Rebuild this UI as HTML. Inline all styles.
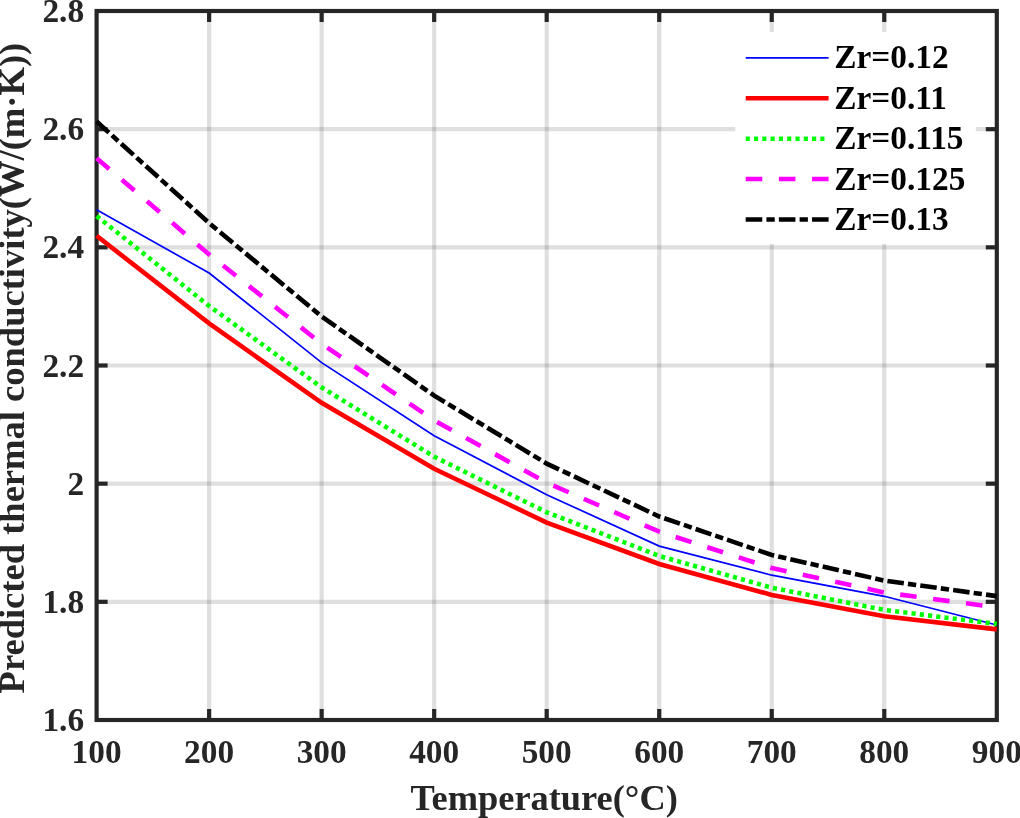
<!DOCTYPE html>
<html lang="en"><head><meta charset="utf-8"><title>Predicted thermal conductivity</title>
<style>html,body{margin:0;padding:0;background:#fff;}body{width:1020px;height:818px;overflow:hidden;}svg{display:block;}text{font-family:"Liberation Serif","Times New Roman",serif;font-weight:bold;}</style></head><body>
<svg width="1020" height="818" viewBox="0 0 1020 818">
<rect x="0" y="0" width="1020" height="818" fill="#ffffff"/>
<g stroke="#262626" stroke-opacity="0.15" stroke-width="4.17" fill="none">
<line x1="209.12" y1="11.0" x2="209.12" y2="720.0"/>
<line x1="321.65" y1="11.0" x2="321.65" y2="720.0"/>
<line x1="434.17" y1="11.0" x2="434.17" y2="720.0"/>
<line x1="546.70" y1="11.0" x2="546.70" y2="720.0"/>
<line x1="659.23" y1="11.0" x2="659.23" y2="720.0"/>
<line x1="771.75" y1="11.0" x2="771.75" y2="720.0"/>
<line x1="884.27" y1="11.0" x2="884.27" y2="720.0"/>
<line x1="96.6" y1="601.83" x2="996.8" y2="601.83"/>
<line x1="96.6" y1="483.67" x2="996.8" y2="483.67"/>
<line x1="96.6" y1="365.50" x2="996.8" y2="365.50"/>
<line x1="96.6" y1="247.33" x2="996.8" y2="247.33"/>
<line x1="96.6" y1="129.17" x2="996.8" y2="129.17"/>
</g>
<g stroke="#262626" stroke-width="4.17" fill="none" stroke-linecap="butt">
<rect x="96.6" y="11.0" width="900.20" height="709.00"/>
<line x1="209.12" y1="720.0" x2="209.12" y2="709.0"/>
<line x1="209.12" y1="11.0" x2="209.12" y2="22.0"/>
<line x1="321.65" y1="720.0" x2="321.65" y2="709.0"/>
<line x1="321.65" y1="11.0" x2="321.65" y2="22.0"/>
<line x1="434.17" y1="720.0" x2="434.17" y2="709.0"/>
<line x1="434.17" y1="11.0" x2="434.17" y2="22.0"/>
<line x1="546.70" y1="720.0" x2="546.70" y2="709.0"/>
<line x1="546.70" y1="11.0" x2="546.70" y2="22.0"/>
<line x1="659.23" y1="720.0" x2="659.23" y2="709.0"/>
<line x1="659.23" y1="11.0" x2="659.23" y2="22.0"/>
<line x1="771.75" y1="720.0" x2="771.75" y2="709.0"/>
<line x1="771.75" y1="11.0" x2="771.75" y2="22.0"/>
<line x1="884.27" y1="720.0" x2="884.27" y2="709.0"/>
<line x1="884.27" y1="11.0" x2="884.27" y2="22.0"/>
<line x1="96.6" y1="601.83" x2="107.6" y2="601.83"/>
<line x1="996.8" y1="601.83" x2="985.8" y2="601.83"/>
<line x1="96.6" y1="483.67" x2="107.6" y2="483.67"/>
<line x1="996.8" y1="483.67" x2="985.8" y2="483.67"/>
<line x1="96.6" y1="365.50" x2="107.6" y2="365.50"/>
<line x1="996.8" y1="365.50" x2="985.8" y2="365.50"/>
<line x1="96.6" y1="247.33" x2="107.6" y2="247.33"/>
<line x1="996.8" y1="247.33" x2="985.8" y2="247.33"/>
<line x1="96.6" y1="129.17" x2="107.6" y2="129.17"/>
<line x1="996.8" y1="129.17" x2="985.8" y2="129.17"/>
</g>
<g fill="none" stroke-linejoin="miter" stroke-linecap="butt">
<polyline points="96.60,209.70 209.12,273.00 321.65,362.60 434.17,435.80 546.70,494.70 659.23,546.10 771.75,575.20 884.27,596.30 996.80,625.00" stroke="#0000ff" stroke-width="1.7"/>
<polyline points="96.60,235.80 209.12,323.40 321.65,402.80 434.17,468.80 546.70,522.60 659.23,564.00 771.75,594.90 884.27,616.20 996.80,629.40" stroke="#ff0000" stroke-width="4.6"/>
<polyline points="96.60,216.00 209.12,306.00 321.65,387.40 434.17,456.70 546.70,512.30 659.23,556.00 771.75,587.70 884.27,609.90 996.80,624.00" stroke="#00ff00" stroke-width="4.6" stroke-dasharray="4.146 4.146"/>
<polyline points="96.60,158.20 209.12,254.40 321.65,343.80 434.17,420.40 546.70,482.70 659.23,531.70 771.75,568.00 884.27,592.50 996.80,607.40" stroke="#ff00ff" stroke-width="4.6" stroke-dasharray="16.584 16.584"/>
<polyline points="96.60,121.50 209.12,223.10 321.65,316.50 434.17,395.60 546.70,463.60 659.23,516.50 771.75,555.00 884.27,580.60 996.80,596.10" stroke="#000000" stroke-width="4.6" stroke-dasharray="16.584 4.146 8.292 4.146"/>
</g>
<rect x="735.3" y="32.0" width="240.50" height="212.00" fill="#ffffff"/>
<g fill="none" stroke-linecap="butt">
<line x1="745.7" y1="57.95" x2="828.6" y2="57.95" stroke="#0000ff" stroke-width="1.7"/>
<line x1="745.7" y1="98.3" x2="828.6" y2="98.3" stroke="#ff0000" stroke-width="4.6"/>
<line x1="745.7" y1="138.7" x2="828.6" y2="138.7" stroke="#00ff00" stroke-width="4.6" stroke-dasharray="4.146 4.146"/>
<line x1="745.7" y1="179.0" x2="828.6" y2="179.0" stroke="#ff00ff" stroke-width="4.6" stroke-dasharray="16.584 16.584"/>
<line x1="745.7" y1="219.5" x2="828.6" y2="219.5" stroke="#000000" stroke-width="4.6" stroke-dasharray="16.584 4.146 8.292 4.146"/>
</g>
<g fill="#000000" font-size="33.33">
<text x="834.3" y="68.45">Zr=0.12</text>
<text x="834.3" y="108.80">Zr=0.11</text>
<text x="834.3" y="149.20">Zr=0.115</text>
<text x="834.3" y="189.50">Zr=0.125</text>
<text x="834.3" y="230.00">Zr=0.13</text>
</g>
<g fill="#262626" font-size="33.33">
<text x="96.60" y="762.6" text-anchor="middle">100</text>
<text x="209.12" y="762.6" text-anchor="middle">200</text>
<text x="321.65" y="762.6" text-anchor="middle">300</text>
<text x="434.17" y="762.6" text-anchor="middle">400</text>
<text x="546.70" y="762.6" text-anchor="middle">500</text>
<text x="659.23" y="762.6" text-anchor="middle">600</text>
<text x="771.75" y="762.6" text-anchor="middle">700</text>
<text x="884.27" y="762.6" text-anchor="middle">800</text>
<text x="996.80" y="762.6" text-anchor="middle">900</text>
<text x="84.1" y="731.00" text-anchor="end">1.6</text>
<text x="84.1" y="612.83" text-anchor="end">1.8</text>
<text x="84.1" y="494.67" text-anchor="end">2</text>
<text x="84.1" y="376.50" text-anchor="end">2.2</text>
<text x="84.1" y="258.33" text-anchor="end">2.4</text>
<text x="84.1" y="140.17" text-anchor="end">2.6</text>
<text x="84.1" y="22.00" text-anchor="end">2.8</text>
</g>
<g fill="#262626" font-size="36.67">
<text transform="translate(544.2,810) scale(0.9925,0.955)" text-anchor="middle">Temperature(°C)</text>
<text transform="translate(23.6,368.1) rotate(-90) scale(0.9966,0.95)" text-anchor="middle">Predicted thermal conductivity(W/(m·K))</text>
</g>
</svg></body></html>
